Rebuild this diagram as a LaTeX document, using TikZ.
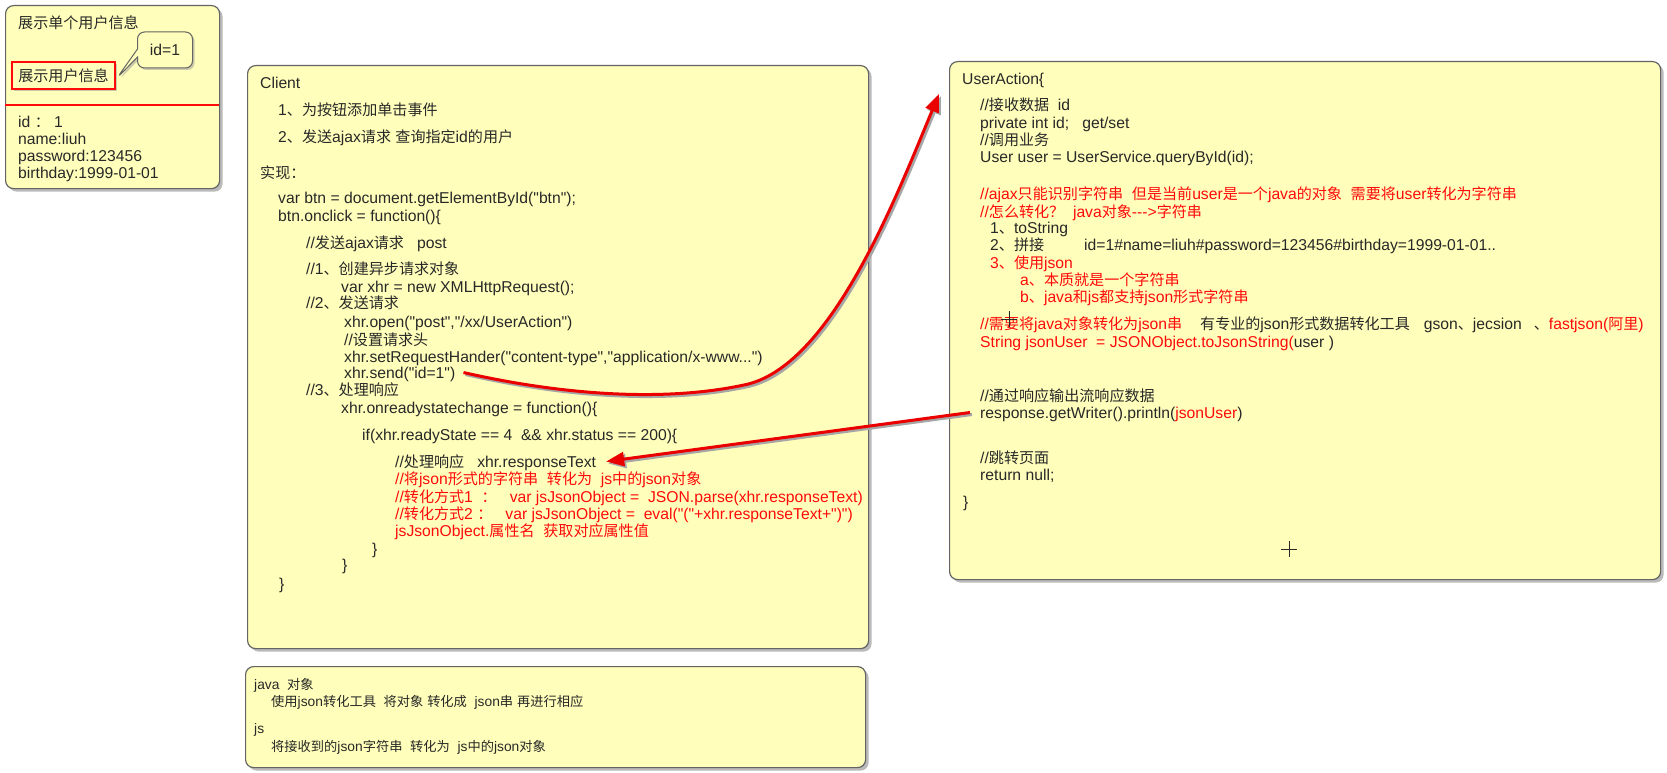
\documentclass[tikz,border=0pt]{standalone}
\usepackage{fontspec}
\setmainfont{Liberation Sans}
\newfontfamily\latinfont{Liberation Sans}
\newfontfamily\cjkfont{Noto Sans CJK SC}[Scale=0.96]
\usetikzlibrary{calc}
\usetikzlibrary{shadows}
\usetikzlibrary{arrows.meta}
\usetikzlibrary{shapes.callouts}

% switch to the CJK font for Chinese characters
\XeTeXinterchartokenstate=1
\newXeTeXintercharclass\cjkclass
\newcount\cjkcode
\newcommand\markcjk[2]{\cjkcode=#1 \loop\XeTeXcharclass\cjkcode=\cjkclass \ifnum\cjkcode<#2 \advance\cjkcode by 1 \repeat}
\markcjk{"3000}{"303F}
\markcjk{"4E00}{"9FFF}
\markcjk{"FF00}{"FFEF}
\XeTeXinterchartoks 0 \cjkclass={\cjkfont}
\XeTeXinterchartoks 4095 \cjkclass={\cjkfont}
\XeTeXinterchartoks \cjkclass 0={\latinfont}
\XeTeXinterchartoks \cjkclass 4095={\latinfont}

% straight double quote (no tex-text mapping)
\font\dqfont="Liberation Sans" at 15.7pt
\newcommand\dq{{\dqfont\char"22}}

\definecolor{notefill}{RGB}{255,255,187}
\definecolor{noteline}{RGB}{100,100,100}
\definecolor{inkgray}{RGB}{40,40,40}
\definecolor{notered}{RGB}{255,10,10}
\definecolor{arrowred}{RGB}{235,0,0}

\begin{document}
\begin{tikzpicture}[x=1pt, y=-1pt,
    note/.style={draw=noteline, line width=1.2pt, fill=notefill, rounded corners=8pt, anchor=north west, inner sep=0pt,
        drop shadow={shadow xshift=3pt, shadow yshift=-3pt, fill=black!45, opacity=.6}},
    txt/.style={anchor=base west, inner sep=0pt, text=inkgray, font=\fontsize{15.7}{18}\selectfont},
    hot/.style={txt, text=notered},
    small/.style={txt, font=\fontsize{13.8}{16}\selectfont},
    redarrow/.style={draw=arrowred, line width=3pt, -{Triangle[length=18pt,width=14pt]},
        preaction={draw=black!35, line width=3pt, -{Triangle[length=18pt,width=14pt]}, transform canvas={shift={(2pt,-2pt)}}}}]
    \useasboundingbox (0,0) rectangle (1667,773);
    \fill[white] (0,0) rectangle (1667,773);

    % page mock-up
    \node[note, minimum width=214pt, minimum height=183pt] (page) at (5,5) {};
    \node[txt] (pagetitle) at (18,28.5) {展示单个用户信息};
    \node[draw=notered, line width=2.5pt, fill=notefill, minimum width=103pt, minimum height=27pt, inner sep=0pt, text=inkgray,
        font=\fontsize{15.7}{18}\selectfont, drop shadow={shadow xshift=2pt, shadow yshift=-2pt, fill=black!40, opacity=.5}] (showbtn) at (63.5,75.5) {展示用户信息};
    \node[rectangle callout, draw=noteline, line width=1pt, fill=notefill, rounded corners=7pt, minimum width=55pt, minimum height=36pt,
        inner sep=0pt, text=inkgray, font=\fontsize{15.7}{18}\selectfont, callout absolute pointer={(117,78)}, callout pointer width=8pt,
        drop shadow={shadow xshift=2pt, shadow yshift=-2pt, fill=black!40, opacity=.5}] (idtip) at (165,50) {id=1};
    \draw[notered, line width=2.5pt] (5,105) -- (219,105);
    \node[txt] (u1) at (18,127.5) {id ： 1};
    \node[txt] (u2) at (18,144) {name:liuh};
    \node[txt] (u3) at (18,161) {password:123456};
    \node[txt] (u4) at (18,178.5) {birthday:1999-01-01};

    % client side
    \node[note, minimum width=621pt, minimum height=583pt] (client) at (247,65) {};
    \node[txt] (c0) at (260,88.5) {Client};
    \node[txt] (c1) at (278,115.5) {1、为按钮添加单击事件};
    \node[txt] (c2) at (278,142.5) {2、发送ajax请求 查询指定id的用户};
    \node[txt] (c3) at (260,178.5) {实现：};
    \node[txt] (c4) at (278,203.5) {var btn = document.getElementById(\dq btn\dq);};
    \node[txt] (c5) at (278,221.5) {btn.onclick = function()\{};
    \node[txt] (c6) at (306,248.5) {//发送ajax请求\ \ \ post};
    \node[txt] (c7) at (306,274.5) {//1、创建异步请求对象};
    \node[txt] (c8) at (341,292.5) {var xhr = new XMLHttpRequest();};
    \node[txt] (c9) at (306,308.5) {//2、发送请求};
    \node[txt] (c10) at (344,327.5) {xhr.open(\dq post\dq,\dq/xx/UserAction\dq)};
    \node[txt] (c11) at (344,345.5) {//设置请求头};
    \node[txt] (c12) at (344,362.5) {xhr.setRequestHander(\dq content-type\dq,\dq application/x-www...\dq)};
    \node[txt] (send) at (344,378.5) {xhr.send(\dq id=1\dq)};
    \node[txt] (c13) at (306,395.5) {//3、处理响应};
    \node[txt] (c14) at (341,413.5) {xhr.onreadystatechange = function()\{};
    \node[txt] (c15) at (362,440.5) {if(xhr.readyState == 4\ \ \&\& xhr.status == 200)\{};
    \node[txt] (resptext) at (395,467.5) {//处理响应\ \ \ xhr.responseText};
    \node[hot] (c16) at (395,484.5) {//将json形式的字符串\ \ 转化为\ \ js中的json对象};
    \node[hot] (c17) at (395,502.5) {//转化方式1\ \ ：\ \ \ var jsJsonObject =\ \ JSON.parse(xhr.responseText)};
    \node[hot] (c18) at (395,519.5) {//转化方式2 ：\ \ \ var jsJsonObject =\ \ eval(\dq(\dq+xhr.responseText+\dq)\dq)};
    \node[hot] (c19) at (395,536.5) {jsJsonObject.属性名\ \ 获取对应属性值};
    \node[txt] (c20) at (372,554.5) {\}};
    \node[txt] (c21) at (342,570.5) {\}};
    \node[txt] (c22) at (279,589.5) {\}};

    % summary
    \node[note, minimum width=620pt, minimum height=101pt] (summary) at (245,666) {};
    \node[small] (s1) at (254,689) {java\ \ 对象};
    \node[small] (s2) at (271,706) {使用json转化工具\ \ 将对象 转化成\ \ json串 再进行相应};
    \node[small] (s3) at (254,733) {js};
    \node[small] (s4) at (271,751) {将接收到的json字符串\ \ 转化为\ \ js中的json对象};

    % server side
    \node[note, minimum width=711pt, minimum height=518pt] (action) at (949,61) {};
    \node[txt] (a0) at (962,84.5) {UserAction\{};
    \node[txt] (a1) at (980,110.5) {//接收数据\ \ id};
    \node[txt] (a2) at (980,128.5) {private int id;\ \ \ get/set};
    \node[txt] (a3) at (980,145.5) {//调用业务};
    \node[txt] (a4) at (980,162.5) {User user = UserService.queryById(id);};
    \node[hot] (a5) at (980,199.5) {//ajax只能识别字符串\ \ 但是当前user是一个java的对象\ \ 需要将user转化为字符串};
    \node[hot] (a6) at (980,217.5) {//怎么转化？\ \ java对象-{}-{}->字符串};
    \node[txt] (a7) at (990,233.5) {1、toString};
    \node[txt] (a8) at (990,250.5) {2、拼接\hspace{40pt}id=1\#name=liuh\#password=123456\#birthday=1999-01-01..};
    \node[hot] (a9) at (990,268.5) {3、使用json};
    \node[hot] (a10) at (1020,285.5) {a、本质就是一个字符串};
    \node[hot] (a11) at (1020,302.5) {b、java和js都支持json形式字符串};
    \node[txt] (a12) at (980,329.5) {\textcolor{notered}{//需要将java对象转化为json串}\hspace{18pt}有专业的json形式数据转化工具\hspace{14pt}gson、jecsion\hspace{12pt}、\textcolor{notered}{fastjson(阿里)}};
    \node[txt] (a13) at (980,347.5) {\textcolor{notered}{String jsonUser\ \ = JSONObject.toJsonString(}user )};
    \node[txt] (a14) at (980,401.5) {//通过响应输出流响应数据};
    \node[txt] (resp) at (980,418.5) {response.getWriter().println(\textcolor{notered}{jsonUser})};
    \node[txt] (a15) at (980,463.5) {//跳转页面};
    \node[txt] (a16) at (980,480.5) {return null;};
    \node[txt] (a17) at (963,507.5) {\}};
    \draw[inkgray, line width=.8pt] (1001,319) -- (1017,319) (1009,311) -- (1009,327);
    \draw[inkgray, line width=.8pt] (1281,549) -- (1297,549) (1289,541) -- (1289,557);

    % request and response
    \coordinate (send-out) at ($(send.base east)+(8,-6)$);
    \coordinate (ua-in) at ($(action.north west)+(-10,33)$);
    \coordinate (resp-out) at ($(resp.base west)+(-10,-6)$);
    \coordinate (rt-in) at ($(resptext.base east)+(10,-6)$);
    \draw[redarrow] (send-out) .. controls (540,390) and (650,405) .. (744,385) .. controls (830,368) and (895,200) .. (ua-in);
    \draw[redarrow] (resp-out) -- (rt-in);
\end{tikzpicture}
\end{document}
